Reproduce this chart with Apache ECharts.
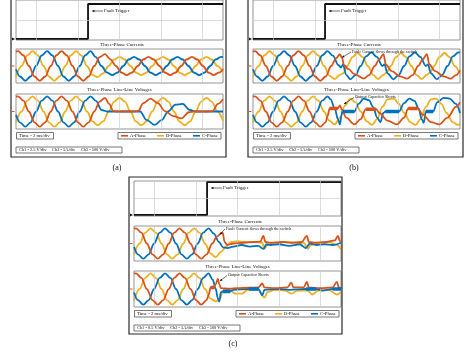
<!DOCTYPE html>
<html><head><meta charset="utf-8">
<script src="https://cdn.jsdelivr.net/npm/echarts@6/dist/echarts.min.js"></script>
<style>html,body{margin:0;padding:0;background:#fff}#c{width:474px;height:362px}</style>
</head><body><div id="c"></div>
<script>
// ---------- DATA (time in ms, amplitudes in per-unit of panel) ----------
const captions = ['(a)', '(b)', '(c)'];
const chLabels = ['Ch1 - 2.5 V/div     Ch2 - 5A/div     Ch3 - 500 V/div',
                  'Ch1 - 2.5 V/div     Ch2 - 5A/div     Ch3 - 500 V/div',
                  'Ch1 - 0.5 V/div     Ch2 - 5A/div     Ch3 - 500 V/div'];
const timeLabel = 'Time - 2 ms/div';
const phaseNames = ['A-Phase', 'B-Phase', 'C-Phase'];
const gridLineTimes = [0, 2, 4, 6, 8];
const faultTimes = [2.48, 2.48, 2.53];
const triggerLow = [0.03, 0.03, 0.03];
const triggerHigh = [0.9, 0.9, 0.97];

// pre-fault (shared)
const redPre = [[-1,0.98],[-0.9,1],[-0.64,0.71],[-0.38,0],[-0.11,-0.71],[0.15,-1],[0.41,-0.71],[0.68,0],[0.94,0.71],[1.2,1],[1.46,0.71],[1.73,0],[1.99,-0.71],[2.25,-1],[2.51,-0.71]];
const yellowPre = [[-1,-0.72],[-0.73,0],[-0.46,0.71],[-0.2,1],[0.06,0.71],[0.33,0],[0.59,-0.71],[0.85,-1],[1.11,-0.71],[1.38,0],[1.64,0.71],[1.9,1],[2.16,0.71],[2.43,0]];
const bluePre = [[-1,-0.22],[-0.81,-0.71],[-0.55,-1],[-0.29,-0.71],[-0.03,0],[0.24,0.71],[0.5,1],[0.76,0.71],[1.03,0],[1.29,-0.71],[1.55,-1],[1.81,-0.71],[2.08,0],[2.34,0.71],[2.6,1]];

// (a) currents post-fault
const redCurA = [[2.78,0],[3.04,0.6],[3.3,0.8],[3.56,0.45],[3.83,0],[4.09,-0.44],[4.35,-0.62],[4.61,-0.44],[4.88,0],[5.14,0.44],[5.4,0.62],[5.66,0.44],[5.93,0],[6.19,-0.44],[6.45,-0.62],[6.71,-0.44],[6.98,0],[7.24,0.44],[7.5,0.62],[7.76,0.44],[8.03,0],[8.29,-0.44],[8.55,-0.62],[8.81,-0.44],[9,-0.2]];
const yellowCurA = [[2.69,-0.6],[2.95,-0.75],[3.21,-0.5],[3.48,0],[3.74,0.44],[4.0,0.62],[4.26,0.44],[4.53,0],[4.79,-0.44],[5.05,-0.62],[5.31,-0.44],[5.58,0],[5.84,0.44],[6.1,0.62],[6.36,0.44],[6.63,0],[6.89,-0.44],[7.15,-0.62],[7.41,-0.44],[7.68,0],[7.94,0.44],[8.2,0.62],[8.46,0.44],[8.73,0],[9,-0.42]];
const blueCurA = [[2.86,0.6],[3.13,0],[3.39,-0.44],[3.65,-0.62],[3.91,-0.44],[4.18,0],[4.44,0.44],[4.7,0.62],[4.96,0.44],[5.23,0],[5.49,-0.44],[5.75,-0.62],[6.01,-0.44],[6.28,0],[6.54,0.44],[6.8,0.62],[7.06,0.44],[7.33,0],[7.59,-0.44],[7.85,-0.62],[8.11,-0.44],[8.38,0],[8.64,0.44],[8.9,0.62],[9,0.6]];
// (a) voltages post-fault
const redVolA = [[2.78,0],[3.04,0.65],[3.3,0.9],[3.5,0.5],[3.7,0.03],[3.9,0],[4.5,0],[4.9,0.02],[5.15,0.55],[5.5,0.85],[5.85,0.55],[6.2,0.03],[6.6,-0.3],[7.0,-0.45],[7.35,-0.05],[7.6,0],[8.2,0],[8.5,0.03],[8.75,0.5],[9,0.8]];
const yellowVolA = [[2.69,-0.65],[2.95,-0.9],[3.21,-0.65],[3.48,0],[3.74,0.65],[4.0,0.9],[4.26,0.65],[4.53,0],[4.79,-0.65],[5.05,-0.9],[5.31,-0.65],[5.58,0],[5.84,0.65],[6.1,0.9],[6.36,0.65],[6.63,0],[6.89,-0.65],[7.15,-0.9],[7.41,-0.65],[7.68,0],[7.94,0.65],[8.2,0.9],[8.46,0.65],[8.73,0],[9,-0.6]];
const blueVolA = [[2.86,0.7],[3.13,0.1],[3.4,0],[4.2,0],[5.0,0],[5.3,-0.55],[5.7,-0.88],[6.05,-0.55],[6.35,0],[6.7,0.45],[7.05,0.5],[7.4,0.1],[7.7,0],[8.4,0],[9,0]];

// (b) currents post-fault
const redCurB = [[2.78,0],[3.0,0.5],[3.2,0.78],[3.3,0.55],[3.4,0.05],[3.6,-0.2],[3.9,-0.55],[4.35,-0.85],[4.61,-0.62],[4.88,0],[5.1,0.45],[5.3,0.8],[5.42,0.1],[5.7,-0.35],[6.1,-0.7],[6.45,-0.85],[6.71,-0.62],[6.98,0],[7.2,0.45],[7.4,0.8],[7.52,0.1],[7.8,-0.35],[8.2,-0.7],[8.55,-0.85],[8.81,-0.62],[9,-0.3]];
const yellowCurB = [[2.69,-0.65],[2.95,-0.88],[3.2,-0.6],[3.35,-0.5],[3.55,0],[3.8,0.6],[4.05,0.88],[4.3,0.6],[4.55,0],[4.81,-0.62],[5.05,-0.88],[5.3,-0.6],[5.45,-0.45],[5.65,0],[5.9,0.6],[6.15,0.88],[6.4,0.6],[6.65,0],[6.91,-0.62],[7.15,-0.88],[7.4,-0.6],[7.55,-0.45],[7.75,0],[8.0,0.6],[8.25,0.88],[8.5,0.6],[8.75,0],[9,-0.55]];
const blueCurB = [[2.86,0.7],[3.13,0.05],[3.25,-0.1],[3.35,0.1],[3.5,-0.6],[3.7,-0.9],[3.95,-0.62],[4.2,0],[4.46,0.65],[4.72,0.92],[4.98,0.62],[5.25,0],[5.35,0.1],[5.5,-0.5],[5.78,-0.9],[6.03,-0.62],[6.3,0],[6.56,0.65],[6.82,0.92],[7.08,0.62],[7.35,0],[7.45,0.1],[7.6,-0.5],[7.88,-0.9],[8.13,-0.62],[8.4,0],[8.66,0.65],[8.92,0.92],[9,0.9]];
// (b) voltages post-fault
const redVolB = [[2.6,-0.3],[2.7,0.2],[2.9,0.2],[3.1,0.2],[3.2,0.4],[3.3,0.1],[3.5,-0.4],[3.9,-0.85],[4.2,-0.5],[4.45,0.15],[4.7,0.15],[4.95,0.15],[5.1,-0.1],[5.5,-0.6],[5.95,-0.85],[6.3,-0.4],[6.5,0.2],[6.7,0.2],[6.95,0.2],[7.2,-0.2],[7.6,-0.7],[8.0,-0.85],[8.4,-0.4],[8.8,0.3],[9,0.6]];
const yellowVolB = [[2.69,-0.6],[2.95,-0.85],[3.2,-0.4],[3.45,0.4],[3.7,0.85],[3.95,0.6],[4.2,0],[4.5,-0.65],[4.75,-0.88],[5.0,-0.5],[5.25,0.3],[5.5,0.8],[5.8,0.85],[6.05,0.5],[6.3,-0.1],[6.6,-0.7],[6.85,-0.88],[7.1,-0.5],[7.35,0.3],[7.6,0.8],[7.85,0.85],[8.1,0.5],[8.35,-0.1],[8.65,-0.7],[8.9,-0.88],[9,-0.8]];
const blueVolB = [[2.75,0.8],[2.95,0.2],[3.1,-0.5],[3.2,-0.85],[3.28,-0.2],[3.32,0],[3.6,0],[3.9,0],[4.1,0.5],[4.35,0.85],[4.6,0.75],[4.8,0.3],[5.0,-0.4],[5.15,-0.7],[5.3,-0.1],[5.4,0],[5.7,0],[6.05,0],[6.3,0.55],[6.55,0.85],[6.8,0.7],[7.0,0.2],[7.15,-0.5],[7.25,-0.75],[7.35,0],[7.5,0],[7.7,0],[7.9,0.6],[8.2,0.9],[8.5,0.85],[8.8,0.5],[9,-0.1]];
const redBurstB = [[2.7,3.1,0.2],[4.45,4.95,0.15],[6.5,6.95,0.2]];
const blueBurstB = [[3.32,3.9,0],[5.4,6.05,0],[7.35,7.7,0]];

// (c) currents post-fault
const redCurC = [[2.78,0],[3.0,0.45],[3.2,0.65],[3.28,0.72],[3.38,0.1],[3.5,-0.1],[3.8,0.0],[4.3,0.05],[4.8,0.1],[5.1,0.12],[5.25,0.5],[5.35,0.1],[5.6,0.05],[6.2,0.1],[6.6,0.05],[7.1,0.1],[7.35,0.5],[7.45,0.1],[7.8,0.05],[8.3,0.1],[8.7,0.2],[8.85,0.5],[8.95,0.15],[9,0.1]];
const yellowCurC = [[2.69,-0.65],[2.95,-0.9],[3.2,-0.55],[3.45,-0.2],[3.7,0.1],[4.0,0.15],[4.3,0.1],[4.8,0.1],[5.2,0.05],[5.3,-0.35],[5.45,-0.1],[5.8,0.05],[6.3,0.1],[6.8,0.05],[7.2,0.05],[7.4,-0.35],[7.55,-0.1],[7.9,0.05],[8.4,0.1],[8.8,-0.1],[9,-0.4]];
const blueCurC = [[2.86,0.65],[3.1,0.1],[3.3,-0.25],[3.5,-0.3],[3.8,-0.2],[4.2,-0.1],[4.6,-0.2],[5.0,-0.15],[5.25,-0.35],[5.4,-0.05],[5.6,-0.1],[6.0,-0.05],[6.5,-0.15],[7.0,-0.05],[7.3,-0.3],[7.5,0.0],[7.8,-0.1],[8.2,-0.05],[8.6,-0.1],[9,0.05]];
// (c) voltages post-fault
const redVolC = [[2.6,-0.4],[2.7,0.1],[2.85,0.12],[2.95,0.3],[3.05,0.65],[3.12,0.3],[3.2,0.05],[3.6,0.02],[4.0,0.05],[4.5,0.08],[5.0,0.1],[5.2,0.35],[5.3,0.1],[5.8,0.05],[6.4,0.1],[6.6,0.4],[6.7,0.1],[7.2,0.1],[7.35,0.45],[7.45,0.1],[8.0,0.05],[8.6,0.1],[8.8,0.45],[8.9,0.1],[9,0.05]];
const yellowVolC = [[2.69,-0.6],[2.95,-0.8],[3.15,-0.6],[3.3,-0.1],[3.6,-0.05],[3.9,-0.3],[4.2,-0.3],[4.5,-0.05],[5.0,-0.05],[5.3,-0.55],[5.45,-0.2],[5.8,-0.05],[6.3,-0.1],[6.6,-0.3],[6.9,-0.1],[7.4,-0.1],[7.6,-0.35],[7.9,-0.1],[8.4,-0.05],[8.8,-0.35],[9,-0.2]];
const blueVolC = [[2.8,0.6],[2.95,0],[3.05,-0.6],[3.12,-0.8],[3.2,-0.2],[3.3,-0.15],[3.65,-0.15],[3.8,-0.05],[4.5,0],[5.0,0],[5.2,-0.4],[5.3,-0.05],[6.0,0],[6.5,-0.05],[7.3,0],[7.8,0],[8.1,-0.1],[8.6,0],[9,0]];
const redBurstC = [[2.7,2.9,0.1]];
const blueBurstC = [[3.3,3.65,-0.15],[4.55,5.0,0],[7.3,7.8,0],[8.6,9,0]];

// ---------- BUILD ----------
const COL = ['#d95319', '#edb120', '#0072bd'];
const FONT = '"Liberation Serif", "DejaVu Serif", serif';
const layouts = [
  {x:16, w:207, tops:[0,49,94], hs:[40,34,35], outer:[11,-3,215,160], cap:[117,168], ftY:11},
  {x:253, w:207, tops:[0,49,94], hs:[40,34,35], outer:[248,-3,215,160], cap:[354,168], ftY:11},
  {x:134, w:207, tops:[181,226,271], hs:[35,35,36], outer:[129,177,213,157], cap:[233,344], ftY:7}
];
const curSets = [[redCurA,yellowCurA,blueCurA],[redCurB,yellowCurB,blueCurB],[redCurC,yellowCurC,blueCurC]];
const volSets = [[redVolA,yellowVolA,blueVolA],[redVolB,yellowVolB,blueVolB],[redVolC,yellowVolC,blueVolC]];
const preSets = [redPre, yellowPre, bluePre];
const bursts = [[[],[]],[redBurstB,blueBurstB],[redBurstC,blueBurstC]];

const grids=[], xAxes=[], yAxes=[], series=[], graphics=[];

function txt(x,y,t,size,align,color){
  graphics.push({type:'text', silent:true, z:100, style:{text:t, x:x, y:y, fill:color||'#111',
    font: size+'px '+FONT, align:align||'left', verticalAlign:'middle', textAlign:align||'left', textVerticalAlign:'middle'}});
}
function rect(x,y,w,h,stroke,lw,fill){
  graphics.push({type:'rect', silent:true, z:90, shape:{x:x,y:y,width:w,height:h}, style:{fill:fill||'none', stroke:stroke, lineWidth:lw}});
}
function line(x1,y1,x2,y2,color,lw){
  graphics.push({type:'line', silent:true, z:95, shape:{x1:x1,y1:y1,x2:x2,y2:y2}, style:{stroke:color, lineWidth:lw}});
}
function arrow(x1,y1,x2,y2){
  line(x1,y1,x2,y2,'#111',0.6);
  const a=Math.atan2(y2-y1,x2-x1), L=2.6, s=0.45;
  graphics.push({type:'polygon', silent:true, z:96, shape:{points:[[x2,y2],[x2-L*Math.cos(a-s),y2-L*Math.sin(a-s)],[x2-L*Math.cos(a+s),y2-L*Math.sin(a+s)]]}, style:{fill:'#111'}});
}

layouts.forEach((L,p)=>{
  for(let k=0;k<3;k++){
    const gi=grids.length;
    grids.push({left:L.x, top:L.tops[k], width:L.w, height:L.hs[k], show:true, borderColor:'#7a7a7a', borderWidth:0.8, backgroundColor:'#fff'});
    xAxes.push({type:'value', gridIndex:gi, min:-1, max:9, show:false});
    yAxes.push({type:'value', gridIndex:gi, min:k===0?0:-1.15, max:k===0?1:1.15, show:false});
    const ml = gridLineTimes.map(v=>({xAxis:v}));
    if(k===0) ml.push({yAxis:0.5});
    series.push({type:'line', xAxisIndex:gi, yAxisIndex:gi, data:[[-1,0]], symbol:'none', silent:true, z:1,
      lineStyle:{opacity:0},
      markLine:{silent:true, symbol:['none','none'], label:{show:false}, animation:false,
        lineStyle:{color:'#cdcdcd', width:0.7, type:'solid'}, emphasis:{disabled:true}, data:ml}});
    if(k===0){
      const f=faultTimes[p], lo=triggerLow[p], hi=triggerHigh[p];
      series.push({type:'line', xAxisIndex:gi, yAxisIndex:gi, symbol:'none', z:3,
        lineStyle:{color:'#111', width:1.8}, data:[[-1,lo],[f,lo],[f,hi],[9,hi]]});
    } else {
      const sets = k===1?curSets[p]:volSets[p];
      for(let s=0;s<3;s++){
        series.push({type:'line', xAxisIndex:gi, yAxisIndex:gi, symbol:'none', showSymbol:false, z:3+(s===0?2:s===1?0:1),
          smooth:0.35, smoothMonotone:'x', lineStyle:{color:COL[s], width:1.8},
          data: preSets[s].concat(sets[s])});
      }
      if(k===2){
        [0,2].forEach((s,bi)=>{
          bursts[p][bi].forEach(seg=>{
            series.push({type:'line', xAxisIndex:gi, yAxisIndex:gi, symbol:'none', z:7,
              lineStyle:{color:COL[s], width:3.6}, data:[[seg[0],seg[2]],[seg[1],seg[2]]]});
          });
        });
      }
    }
  }
  // decorations
  const o=L.outer;
  rect(o[0],o[1],o[2],o[3],'#2a2a2a',1.2);
  const stepX = L.x + (faultTimes[p]+1)*L.w/10;
  arrow(stepX+15, L.tops[0]+L.ftY, stepX+4, L.tops[0]+L.ftY);
  txt(stepX+16, L.tops[0]+L.ftY, 'Fault Trigger', 4.8);
  txt(L.x+106, L.tops[1]-4.5, 'Three-Phase Currents', 5, 'center');
  txt(L.x+103.5, L.tops[2]-4, 'Three-Phase Line-Line Voltages', 5, 'center');
  // left markers
  const tb=L.tops[0]+L.hs[0];
  graphics.push({type:'polygon', silent:true, z:96, shape:{points:[[L.x-4,tb-2.5],[L.x-1,tb-1],[L.x-4,tb+0.5]]}, style:{fill:'#111'}});
  line(L.x-4, L.tops[1]+L.hs[1]/2, L.x-1.5, L.tops[1]+L.hs[1]/2, COL[0], 1);
  line(L.x-4, L.tops[2]+L.hs[2]/2, L.x-1.5, L.tops[2]+L.hs[2]/2, COL[0], 1);
  // legend row
  const vb=L.tops[2]+L.hs[2];
  rect(L.x+0.5, vb+3.5, 37, 6.5, '#555', 0.8, '#fff');
  txt(L.x+3, vb+6.8, timeLabel, 4.8);
  const lx=L.x+102;
  rect(lx, vb+3.5, 103, 6.5, '#555', 0.8, '#fff');
  for(let s=0;s<3;s++){
    const ix=lx+3+s*36;
    line(ix, vb+6.8, ix+7, vb+6.8, COL[s], 1.6);
    txt(ix+9, vb+6.8, phaseNames[s], 4.8);
  }
  rect(L.x, vb+18, 106, 6, '#555', 0.8, '#fff');
  txt(L.x+3, vb+21, chLabels[p], 4.4);
  txt(L.cap[0], L.cap[1], captions[p], 8, 'center');
});

// annotations (b) and (c)
arrow(351,52,342,57.5); txt(352,51.5,'Fault Current flows through the switch',4.2);
arrow(354,97.5,344,104); txt(355,97,'Output Capacitor Shorts',4.2);
arrow(225,229,220,234.5); txt(226,228.5,'Fault Current flows through the switch',4.2);
arrow(227,275.5,220,281); txt(228,275,'Output Capacitor Shorts',4.2);

const chart = echarts.init(document.getElementById('c'), null, {renderer:'canvas', width:474, height:362});
chart.setOption({animation:false, backgroundColor:'#fff', grid:grids, xAxis:xAxes, yAxis:yAxes, series:series, graphic:{elements:graphics}});
</script>
</body></html>
